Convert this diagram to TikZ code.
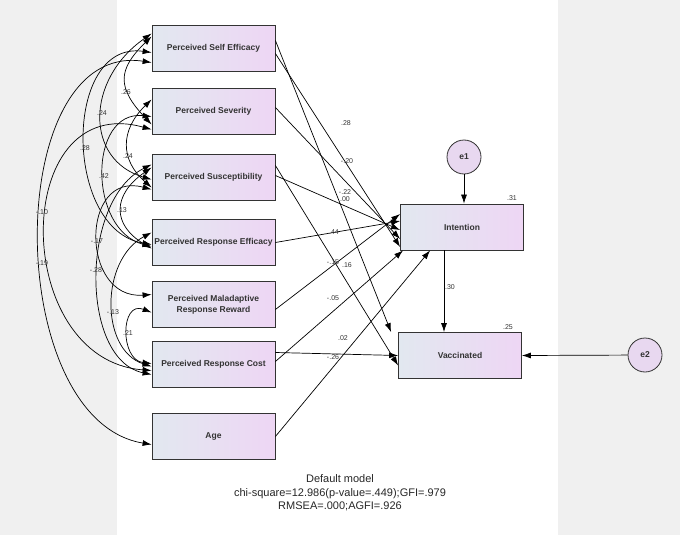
\documentclass[tikz,border=0pt]{standalone}
\usepackage{fontspec}
\setmainfont{Liberation Sans}
\usetikzlibrary{arrows.meta}
\begin{document}
\begin{tikzpicture}[x=1pt,y=-1pt,
 box/.style={draw=black!80,line width=0.8pt,left color={rgb,255:red,226;green,232;blue,240},right color={rgb,255:red,238;green,214;blue,244},minimum width=123pt,minimum height=46pt,inner sep=1pt,font=\fontsize{8.5}{11}\selectfont\bfseries,text=black!80,align=center},
 err/.style={circle,draw=black!80,line width=0.8pt,fill={rgb,255:red,232;green,216;blue,240},minimum size=34pt,inner sep=0pt,font=\fontsize{8.5}{10}\selectfont\bfseries,text=black!80},
 pth/.style={-{Latex[length=9pt,width=6pt]},line width=0.7pt},
 cov/.style={{Latex[length=9pt,width=6pt]}-{Latex[length=9pt,width=6pt]},line width=0.7pt},
 lab/.style={font=\fontsize{7}{8}\selectfont,inner sep=0pt,text=black!80}]
\useasboundingbox (0,0) rectangle (680,535);
\fill[black!6] (0,0) rectangle (117,535);
\fill[black!6] (558,0) rectangle (680,535);
\node[box] (se) at (213.5,48.5) {Perceived Self Efficacy};
\node[box] (sv) at (213.5,111.5) {Perceived Severity};
\node[box] (su) at (213.5,177.5) {Perceived Susceptibility};
\node[box] (re) at (213.5,242.5) {Perceived Response Efficacy};
\node[box] (ma) at (213.5,304.5) {Perceived Maladaptive\\Response Reward};
\node[box] (co) at (213.5,364.5) {Perceived Response Cost};
\node[box] (ag) at (213.5,436.5) {Age};
\node[box] (in) at (462,227) {Intention};
\node[box] (va) at (460,355.5) {Vaccinated};
\node[err] (e1) at (464,157) {e1};
\node[err] (e2) at (645,355) {e2};
\node[lab] at (512,198) {.31};
\node[lab] at (508,327) {.25};
% paths
\draw[pth] (e1) -- (in.north -| e1);
\draw[pth] (e2) -- (va.east);
\draw[pth] (in.south -| 444,0) -- (va.north -| 444,0);
\node[lab] at (450,287) {.30};
\draw[pth] ([yshift=-5pt]se.east) -- ([yshift=-20pt]in.west); \node[lab] at (346,123) {.28};
\draw[pth] ([yshift=8pt]se.east) -- ([xshift=-7pt]va.north west); \node[lab] at (345,192) {-.22};
\draw[pth] ([yshift=4pt]sv.east) -- ([yshift=-12pt]in.west); \node[lab] at (347,161) {-.20};
\draw[pth] ([yshift=2pt]su.east) -- ([yshift=-3pt]in.west); \node[lab] at (345,199) {.00};
\draw[pth] ([yshift=12pt]su.east) -- ([yshift=-10pt]va.west); \node[lab] at (347,265) {.16};
\draw[pth] (re.east) -- ([yshift=6pt]in.west); \node[lab] at (334,232) {.44};
\draw[pth] ([yshift=-5pt]ma.east) -- ([yshift=13pt]in.west); \node[lab] at (333,262) {-.15};
\draw[pth] ([yshift=3pt]co.east) -- ([xshift=3pt]in.south west); \node[lab] at (333,298) {-.05};
\draw[pth] ([yshift=12pt]co.east) -- (va.west); \node[lab] at (333,357) {-.26};
\draw[pth] (ag.east) -- ([xshift=30pt]in.south west); \node[lab] at (343,338) {.02};
% covariances
\draw[cov] ([yshift=12pt]se.west) .. controls (117,70) and (117,88) .. ([yshift=-13pt]sv.west); \node[lab] at (126,92) {.26};
\draw[cov] ([yshift=15pt]se.west) .. controls (85,80) and (85,160) .. ([yshift=-2pt]su.west); \node[lab] at (102,113) {.24};
\draw[cov] ([yshift=-4pt]se.west) .. controls (63,40) and (63,230) .. ([yshift=-2pt]re.west); \node[lab] at (85,148) {.28};
\draw[cov] ([yshift=12pt]sv.west) .. controls (120,130) and (120,160) .. ([yshift=-10pt]su.west); \node[lab] at (128,156) {.24};
\draw[cov] ([yshift=-5pt]sv.west) .. controls (88,110) and (88,230) .. ([yshift=-4pt]re.west); \node[lab] at (104,176) {.42};
\draw[cov] ([yshift=10pt]su.west) .. controls (112,195) and (112,225) .. ([yshift=-6pt]re.west); \node[lab] at (122,210) {.13};
\draw[cov] ([yshift=-18pt]sv.west) .. controls (10,90) and (10,360) .. ([yshift=-6pt]co.west); \node[lab] at (42,212) {-.10};
\draw[cov] ([yshift=-14pt]se.west) .. controls (2,40) and (2,420) .. ([yshift=-8pt]ag.west); \node[lab] at (42,263) {-.19};
\draw[cov] ([yshift=-12pt]su.west) .. controls (80,170) and (80,300) .. ([yshift=10pt]ma.west); \node[lab] at (97,241) {-.17};
\draw[cov] ([yshift=13pt]su.west) .. controls (80,200) and (80,360) .. ([yshift=-10pt]co.west); \node[lab] at (96,270) {-.28};
\draw[cov] ([yshift=10pt]re.west) .. controls (100,260) and (100,350) .. ([yshift=-2pt]co.west); \node[lab] at (113,312) {-.13};
\draw[cov] ([yshift=-8pt]ma.west) .. controls (120,300) and (120,360) .. ([yshift=1pt]co.west); \node[lab] at (128,333) {.21};
\node[font=\fontsize{11}{13.5}\selectfont,align=center,text=black!85] (cap) at (340,493) {Default model\\chi-square=12.986(p-value=.449);GFI=.979\\RMSEA=.000;AGFI=.926};
\end{tikzpicture}
\end{document}
